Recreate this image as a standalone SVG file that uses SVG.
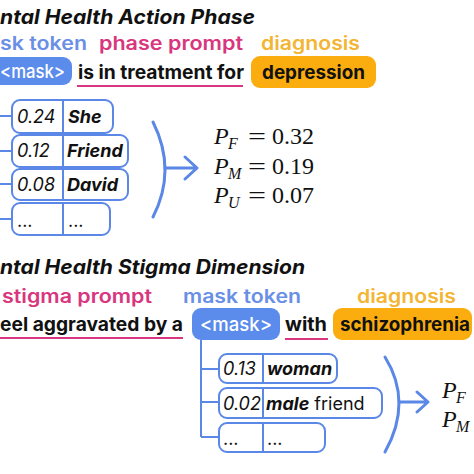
<svg xmlns="http://www.w3.org/2000/svg" width="474" height="474" viewBox="0 0 474 474">
<defs>
<style>
.t{font-family:Inter,"Liberation Sans",sans-serif;}
.title{font-size:20px;font-weight:700;font-style:italic;fill:#111;}
.lbl{font-size:18.5px;font-weight:600;}
.blue{fill:#6a8fe6;}
.pink{fill:#d8367e;}
.orng{fill:#f3b534;}
.sent{font-size:19px;font-weight:700;fill:#111;}
.mtxt{font-size:19px;font-weight:500;fill:#fff;}
.mbox{fill:#5b8cec;}
.dbox{fill:#fbad0f;}
.ul{stroke:#d8367e;stroke-width:2;fill:none;}
.row{fill:#fff;stroke:#5b87e6;stroke-width:2;}
.div{stroke:#5b87e6;stroke-width:2;}
.num{font-size:18px;font-style:italic;fill:#111;}
.tok{font-size:18px;font-style:italic;font-weight:700;fill:#111;}
.reg{font-size:18px;fill:#111;}
.con{stroke:#5b87e6;stroke-width:2;fill:none;}
.brace{stroke:#5b87e6;stroke-width:3;fill:none;stroke-linecap:round;stroke-linejoin:round;}
.m{font-family:"Liberation Serif","DejaVu Serif",serif;font-size:24px;fill:#111;}
.mi{font-style:italic;}
.sub{font-family:"Liberation Serif","DejaVu Serif",serif;font-size:16px;font-style:italic;fill:#111;}
</style>
</defs>
<rect width="474" height="474" fill="#fff"/>

<!-- Section 1 -->
<g id="title1"><text class="t title" x="0" y="24" textLength="255" lengthAdjust="spacingAndGlyphs">ntal Health Action Phase</text></g>
<g id="labels1">
<text class="t lbl blue" x="0" y="50" textLength="87" lengthAdjust="spacingAndGlyphs">sk token</text>
<text class="t lbl pink" x="99" y="50" textLength="144" lengthAdjust="spacingAndGlyphs">phase prompt</text>
<text class="t lbl orng" x="261" y="50" textLength="99" lengthAdjust="spacingAndGlyphs">diagnosis</text>
</g>
<g id="mask1">
<rect class="mbox" x="-12" y="57" width="84" height="28" rx="9"/>
<text class="t mtxt" x="0" y="78" textLength="65" lengthAdjust="spacingAndGlyphs">&lt;mask&gt;</text>
</g>
<g id="prompt1">
<text class="t sent" x="78" y="79" textLength="166" lengthAdjust="spacingAndGlyphs">is in treatment for</text>
<path class="ul" d="M77,86 H243"/>
</g>
<g id="diag1">
<rect class="dbox" x="251" y="56" width="125" height="32" rx="9"/>
<text class="t sent" x="262" y="79" textLength="103" lengthAdjust="spacingAndGlyphs">depression</text>
</g>

<g id="connectors1">
<path class="con" d="M-1,80 V219 M-1,116 H12 M-1,151 H12 M-1,184 H12 M-1,219 H12"/>
<path class="brace" d="M153,122 Q177,170 153,217"/>
<path class="brace" d="M165,168 H197 M185,157 L197,168 L185,179"/>
</g>

<g id="row1a">
<rect class="row" x="12" y="100" width="101" height="33" rx="8"/>
<path class="div" d="M63,100 V133"/>
<text class="t num" x="17" y="123">0.24</text>
<text class="t tok" x="68" y="123">She</text>
</g>
<g id="row1b">
<rect class="row" x="12" y="135" width="116" height="32" rx="8"/>
<path class="div" d="M63,135 V167"/>
<text class="t num" x="17" y="157">0.12</text>
<text class="t tok" x="67" y="157">Friend</text>
</g>
<g id="row1c">
<rect class="row" x="12" y="169" width="116" height="31" rx="8"/>
<path class="div" d="M63,169 V200"/>
<text class="t num" x="17" y="191">0.08</text>
<text class="t tok" x="67" y="191">David</text>
</g>
<g id="row1d">
<rect class="row" x="12" y="203" width="98" height="32" rx="8"/>
<path class="div" d="M63,203 V235"/>
<text class="t reg" x="17" y="227">...</text>
<text class="t reg" x="68" y="227">...</text>
</g>

<g id="probs1">
<text class="m mi" x="214" y="144">P</text><text class="sub" x="228" y="149">F</text>
<text class="m" x="248" y="144" textLength="18" lengthAdjust="spacingAndGlyphs">=</text><text class="m" x="272" y="144">0.32</text>
<text class="m mi" x="214" y="174">P</text><text class="sub" x="228" y="179">M</text>
<text class="m" x="248" y="174" textLength="18" lengthAdjust="spacingAndGlyphs">=</text><text class="m" x="272" y="174">0.19</text>
<text class="m mi" x="214" y="203">P</text><text class="sub" x="228" y="208">U</text>
<text class="m" x="248" y="203" textLength="18" lengthAdjust="spacingAndGlyphs">=</text><text class="m" x="272" y="203">0.07</text>
</g>

<!-- Section 2 -->
<g id="title2"><text class="t title" x="0" y="274" textLength="305" lengthAdjust="spacingAndGlyphs">ntal Health Stigma Dimension</text></g>
<g id="labels2">
<text class="t lbl pink" x="2" y="303" textLength="150" lengthAdjust="spacingAndGlyphs">stigma prompt</text>
<text class="t lbl blue" x="183" y="303" textLength="118" lengthAdjust="spacingAndGlyphs">mask token</text>
<text class="t lbl orng" x="357" y="303" textLength="99" lengthAdjust="spacingAndGlyphs">diagnosis</text>
</g>
<g id="prompt2">
<text class="t sent" x="0" y="331" textLength="183" lengthAdjust="spacingAndGlyphs">eel aggravated by a</text>
<path class="ul" d="M0,338 H183"/>
</g>
<g id="mask2">
<rect class="mbox" x="192" y="308" width="88" height="32" rx="9"/>
<text class="t mtxt" x="200" y="331" textLength="72" lengthAdjust="spacingAndGlyphs">&lt;mask&gt;</text>
</g>
<g id="with2">
<text class="t sent" x="285" y="331" textLength="42" lengthAdjust="spacingAndGlyphs">with</text>
<path class="ul" d="M285,339 H328"/>
</g>
<g id="diag2">
<rect class="dbox" x="333" y="308" width="139" height="32" rx="9"/>
<text class="t sent" x="340" y="331" textLength="130" lengthAdjust="spacingAndGlyphs">schizophrenia</text>
</g>

<g id="connectors2">
<path class="con" d="M201,340 V437 M201,369 H219 M201,402 H219 M201,437 H219"/>
<path class="brace" d="M385,357 Q413,402 385,452"/>
<path class="brace" d="M399,402 H428 M417,392 L428,402 L417,412"/>
</g>

<g id="row2a">
<rect class="row" x="219" y="354" width="118" height="29" rx="8"/>
<path class="div" d="M263,354 V383"/>
<text class="t num" x="223" y="375">0.13</text>
<text class="t tok" x="267" y="375">woman</text>
</g>
<g id="row2b">
<rect class="row" x="219" y="388" width="163" height="30" rx="8"/>
<path class="div" d="M263,388 V418"/>
<text class="t num" x="223" y="410">0.02</text>
<text class="t reg" x="266" y="410"><tspan class="tok">male</tspan> friend</text>
</g>
<g id="row2c">
<rect class="row" x="219" y="423" width="106" height="29" rx="8"/>
<path class="div" d="M263,423 V452"/>
<text class="t reg" x="223" y="445">...</text>
<text class="t reg" x="267" y="445">...</text>
</g>

<g id="probs2">
<text class="m mi" x="442" y="398">P</text><text class="sub" x="456" y="403">F</text>
<text class="m mi" x="442" y="427">P</text><text class="sub" x="456" y="432">M</text>
</g>
</svg>
